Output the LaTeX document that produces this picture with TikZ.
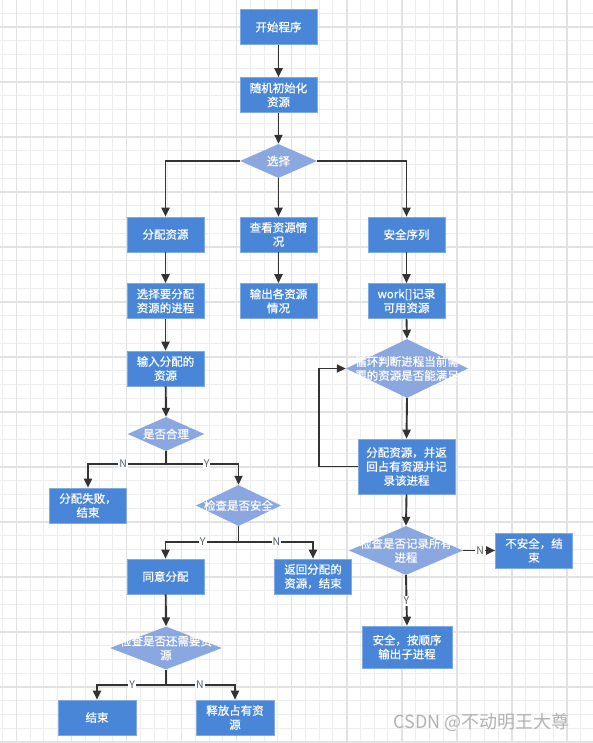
\documentclass[tikz,border=0pt]{standalone}
\usepackage{fontspec}
\setmainfont{Noto Sans CJK SC}
\newfontfamily\boxfont[FakeBold=0.6]{Noto Sans CJK SC}
\usetikzlibrary{shapes.geometric,arrows.meta}
\definecolor{boxblue}{RGB}{74,134,216}
\definecolor{diablue}{RGB}{139,167,224}
\definecolor{linec}{RGB}{51,51,51}
\definecolor{gridminor}{RGB}{237,237,237}
\definecolor{gridmajor}{RGB}{226,226,226}
\definecolor{lblc}{RGB}{85,95,110}
\begin{document}
\begin{tikzpicture}[x=1pt,y=-1pt,
  box/.style={rectangle,fill=boxblue,draw=boxblue!70!white,line width=0.6pt,text=white,align=center,
    minimum width=77pt,minimum height=35pt,inner sep=0pt,
    font=\boxfont\fontsize{11.5}{14}\selectfont},
  dia/.style={diamond,fill=diablue,inner sep=0pt},
  dtext/.style={text=white,align=center,inner sep=0pt,font=\boxfont\fontsize{11.5}{14}\selectfont},
  conn/.style={draw=linec,line width=1.9pt},
  arr/.style={conn,-{Triangle[length=9pt,width=8pt]}},
  yn/.style={fill=white,text=lblc,inner sep=1pt,font=\fontsize{10.5}{12}\selectfont}
]
\useasboundingbox (0,0) rectangle (593,743);
\fill[white] (0,0) rectangle (593,743);
% grid
\foreach \i in {0,...,43}{\draw[gridminor,line width=1pt] ({2.7+13.76*\i},0) -- ({2.7+13.76*\i},743);}
\foreach \j in {0,...,54}{\draw[gridminor,line width=1pt] (0,{-0.5+13.75*\j}) -- (593,{-0.5+13.75*\j});}
\foreach \i in {1,5,...,41}{\draw[gridmajor,line width=1.6pt] ({2.7+13.76*\i},0) -- ({2.7+13.76*\i},743);}
\foreach \j in {2,6,...,54}{\draw[gridmajor,line width=1.6pt] (0,{-0.5+13.75*\j}) -- (593,{-0.5+13.75*\j});}

% centre column
\node[box] (start) at (278.5,27) {开始程序};
\node[box] (init) at (278.5,95) {随机初始化\\资源};
\node[dia,minimum width=77pt,minimum height=34pt] (sel) at (278.5,161) {};
\node[dtext] (selt) at (sel) {选择};
\node[box] (view) at (278.5,234.5) {查看资源情\\况};
\node[box] (outp) at (278.5,301) {输出各资源\\情况};

% left column
\node[box] (alloc) at (165.5,234.5) {分配资源};
\node[box] (selp) at (165.5,301) {选择要分配\\资源的进程};
\node[box] (inp) at (165.5,368.5) {输入分配的\\资源};
\node[dia,minimum width=77pt,minimum height=34pt] (reas) at (166,434) {};
\node[dtext] at (reas) {是否合理};
\node[box] (fail) at (88,505.5) {分配失败，\\结束};
\node[dia,minimum width=85pt,minimum height=41pt] (chk) at (238.5,505.5) {};
\node[dtext] at (chk) {检查是否安全};
\node[box] (agree) at (165.5,576.5) {同意分配};
\node[box] (ret) at (313,576.5) {返回分配的\\资源，结束};
\node[dia,minimum width=112pt,minimum height=43pt] (need) at (166,648) {};
\node[dtext] at (need) {检查是否还需要资\\源};
\node[box,minimum width=78pt] (endb) at (97,717.5) {结束};
\node[box,minimum width=78pt] (rel) at (235,717.5) {释放占有资\\源};

% right column
\node[box] (safe) at (406.5,234.5) {安全序列};
\node[box] (work) at (406.5,301) {work[]记录\\可用资源};
\node[dia,minimum width=122pt,minimum height=59pt] (loop) at (407,368.5) {};
\node[dtext] at (loop) {循环判断进程当前需\\要的资源是否能满足};
\node[box,minimum width=97pt,minimum height=55pt] (aret) at (406.5,466.5) {分配资源，并返\\回占有资源并记\\录该进程};
\node[dia,minimum width=114pt,minimum height=49pt] (rec) at (406,550.5) {};
\node[dtext] at (rec) {检查是否记录所有\\进程};
\node[box] (unsafe) at (534,550.5) {不安全，结\\束};
\node[box,minimum width=90pt,minimum height=42pt] (sout) at (407,647) {安全，按顺序\\输出子进程};

% watermark
\node[text=gray!60,inner sep=0pt,font=\fontsize{18}{20}\selectfont] (wm) at (481.5,722) {CSDN @不动明王大尊};

% connectors
\coordinate (rb) at (166,464);
\coordinate (cb) at (238.5,542);
\coordinate (nb) at (166,685);
\coordinate (lp) at (319,466.5);

\draw[arr] (start) -- (init);
\draw[arr] (init) -- (sel);
\draw[arr] (sel.west) -| (alloc.north);
\draw[arr] (sel.south) -- (view.north);
\draw[arr] (sel.east) -| (safe.north);
\draw[arr] (alloc) -- (selp);
\draw[arr] (view) -- (outp);
\draw[arr] (safe) -- (work);
\draw[arr] (selp) -- (inp);
\draw[arr] (inp) -- (reas.north);
\draw[conn] (reas.south) -- (rb);
\draw[arr] (rb) -| node[yn,pos=0.275]{N} (fail.north);
\draw[arr] (rb) -| node[yn,pos=0.28]{Y} (chk.north);
\draw[conn] (chk.south) -- (cb);
\draw[arr] (cb) -| node[yn,pos=0.245]{Y} (agree.north);
\draw[arr] (cb) -| node[yn,pos=0.255]{N} (ret.north);
\draw[arr] (agree) -- (need.north);
\draw[conn] (need.south) -- (nb);
\draw[arr] (nb) -| node[yn,pos=0.245]{Y} (endb.north);
\draw[arr] (nb) -| node[yn,pos=0.245]{N} (rel.north);

\draw[arr] (work.south) -- (loop.north);
\draw[arr] (loop.south) -- (aret.north);
\draw[arr] (aret.west) -- (lp) |- (loop.west);
\draw[arr] (aret.south) -- (rec.north);
\draw[arr] (rec.east) -- node[yn,pos=0.53]{N} (unsafe.west);
\draw[arr] (rec.south) -- node[yn,pos=0.51]{Y} (sout.north);
\end{tikzpicture}
\end{document}
